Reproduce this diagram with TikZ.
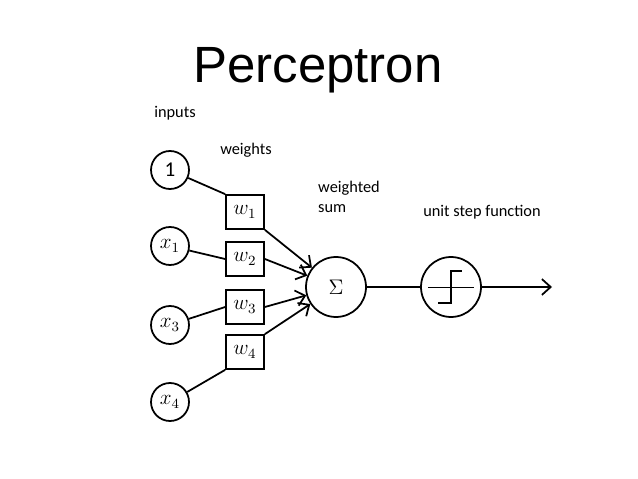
\documentclass[tikz,border=0pt]{standalone}
\usepackage{fontspec}
\setmainfont{Carlito}
\newfontfamily\titlefont{Liberation Sans}
\usetikzlibrary{arrows.meta}
\begin{document}
\begin{tikzpicture}[x=0.02cm,y=-0.02cm,
    inp/.style={circle, draw, line width=1pt, minimum size=0.76cm, inner sep=0pt, font=\large},
    wbox/.style={rectangle, draw, line width=1pt, minimum width=0.76cm, minimum height=0.68cm, inner sep=0pt, font=\large},
    unit/.style={circle, draw, line width=1pt, minimum size=1.2cm, inner sep=0pt, font=\large},
    lbl/.style={font=\fontsize{9.3}{11}\selectfont, align=left},
    arrow/.style={-{Straight Barb[length=5pt,width=9pt]}, line width=1pt},
    link/.style={line width=1pt}]
    \useasboundingbox (0,0) rectangle (638,479);

    % title and labels
    \node (title) at (318,70) {\titlefont\fontsize{29}{32}\selectfont Perceptron};
    \node (inputs) [lbl] at (175,113) {inputs};
    \node (weights) [lbl] at (246,150) {weights};
    \node (wsum) [lbl, anchor=west] at (312,197) {weighted\\sum};
    \node (steplbl) [lbl] at (482,212) {unit step function};

    % inputs
    \node (in0) [inp] at (170,170) {1};
    \node (in1) [inp] at (170,246) {$x_1$};
    \node (in3) [inp] at (170,325) {$x_3$};
    \node (in4) [inp] at (170,402) {$x_4$};

    % weights
    \node (w1) [wbox] at (245,212) {$w_1$};
    \node (w2) [wbox] at (245,259) {$w_2$};
    \node (w3) [wbox] at (245,307) {$w_3$};
    \node (w4) [wbox] at (245,352) {$w_4$};

    % sum and step
    \node (sum) [unit] at (336,287) {$\Sigma$};
    \node (step) [unit] at (451,287) {};
    \draw[line width=0.5pt] ([xshift=-0.46cm]step.center) -- ([xshift=0.46cm]step.center);
    \draw[line width=1.3pt] ([xshift=-0.26cm,yshift=-0.32cm]step.center)
        -- ([xshift=0cm,yshift=-0.32cm]step.center)
        -- ([xshift=0cm,yshift=0.32cm]step.center)
        -- ([xshift=0.22cm,yshift=0.32cm]step.center);
    \coordinate (out) at (552,287);

    \draw[link] (in0) -- (w1.north west);
    \draw[link] (in1) -- (w2.west);
    \draw[link] (in3) -- (w3.west);
    \draw[link] (in4) -- (w4.south west);
    \draw[arrow] (w1.south east) -- (sum);
    \draw[arrow] (w2.east) -- (sum);
    \draw[arrow] (w3.east) -- (sum);
    \draw[arrow] (w4.north east) -- (sum);
    \draw[link] (sum) -- (step);
    \draw[arrow] (step) -- (out);
\end{tikzpicture}
\end{document}
